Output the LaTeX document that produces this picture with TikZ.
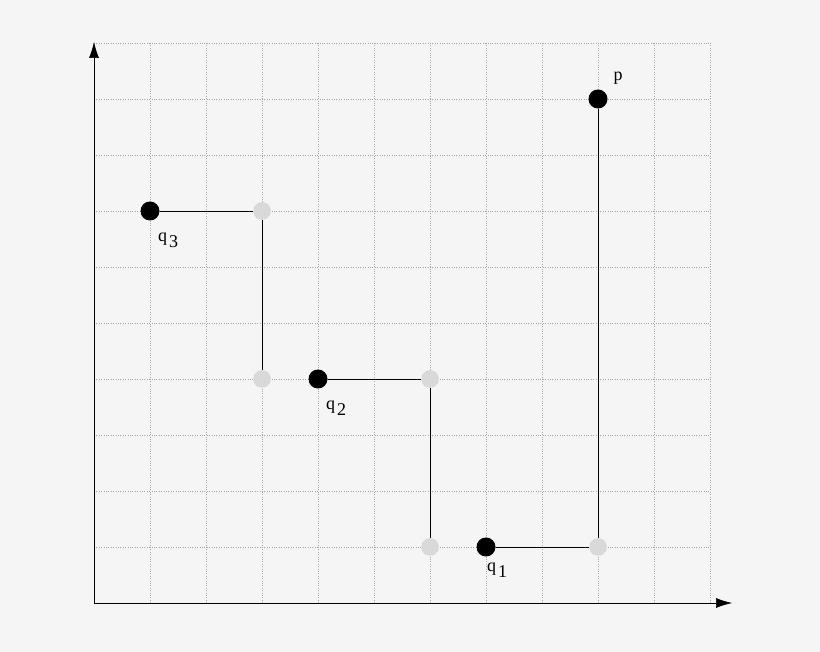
\documentclass[tikz,border=0pt]{standalone}
\usepackage{fontspec}
\setmainfont{Liberation Serif}
\usetikzlibrary{arrows.meta}
\begin{document}
\begin{tikzpicture}[x=1pt,y=-1pt,
  big/.style={circle,fill=black,inner sep=0pt,minimum size=19pt},
  small/.style={circle,fill=gray!30,draw=gray!60,densely dotted,inner sep=0pt,minimum size=17pt},
  lab/.style={font=\fontsize{18}{18}\selectfont}]
\fill[gray!8] (0,0) rectangle (820,652);
\useasboundingbox (0,0) rectangle (820,652);
\foreach \x in {94,150,...,710} \draw[gray!70,dotted] (\x,43) -- (\x,603);
\foreach \y in {43,99,...,603} \draw[gray!70,dotted] (94,\y) -- (710,\y);
\coordinate (o) at (94,603);
\coordinate (yt) at (94,42);
\coordinate (xt) at (732,603);
\draw[semithick,-{Latex[length=16pt,width=10pt]}] (o) -- (yt);
\draw[semithick,-{Latex[length=16pt,width=10pt]}] (o) -- (xt);
\node[small] (a) at (262,211) {};
\node[small] (b) at (262,379) {};
\node[small] (c) at (430,379) {};
\node[small] (d) at (430,547) {};
\node[small] (e) at (598,547) {};
\node[big] (q3) at (150,211) {};
\node[big] (q2) at (318,379) {};
\node[big] (q1) at (486,547) {};
\node[big] (p) at (598,99) {};
\draw (q3) -- (a) -- (b);
\draw (q2) -- (c) -- (d);
\draw (q1) -- (e) -- (p);
\node[lab] (lq3) at (168,240) {q\kern2pt\raisebox{-6pt}{3}};
\node[lab] (lq2) at (336,408) {q\kern2pt\raisebox{-6pt}{2}};
\node[lab] (lq1) at (497,570) {q\kern2pt\raisebox{-6pt}{1}};
\node[lab] (lp) at (618,78) {p};
\end{tikzpicture}
\end{document}
